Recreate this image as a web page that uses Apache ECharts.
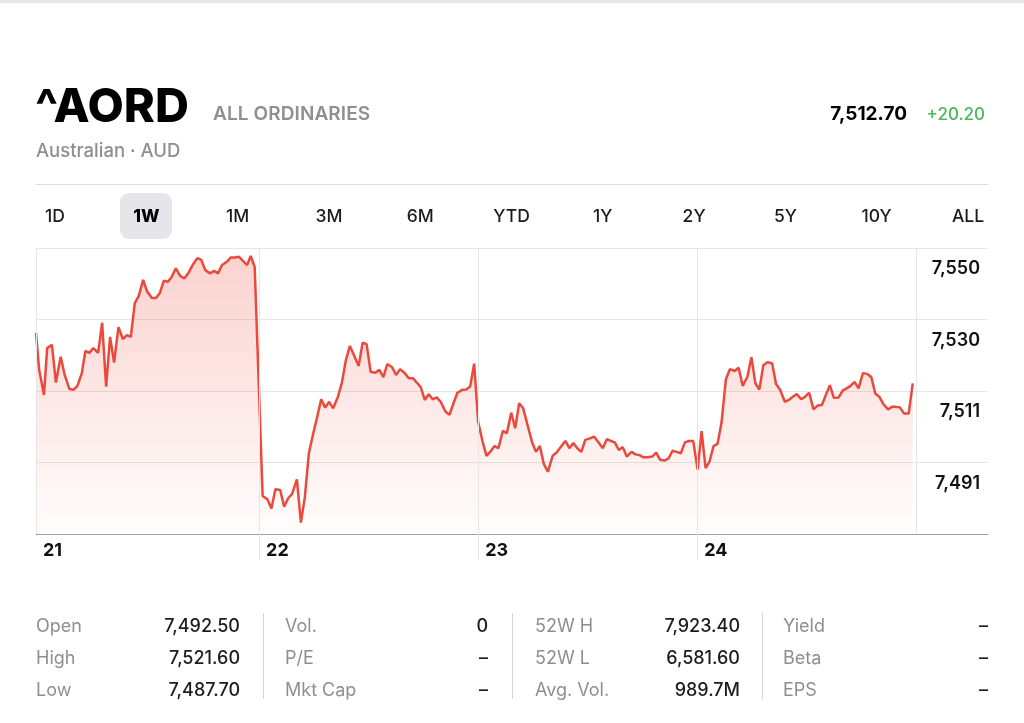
<!DOCTYPE html>
<html>
<head>
<meta charset="utf-8">
<script src="https://cdn.jsdelivr.net/npm/echarts@6/dist/echarts.min.js"></script>
<style>
  html, body { margin: 0; padding: 0; background: #fff; }
  body { width: 1024px; height: 723px; position: relative; overflow: hidden; font-family: Inter, "Noto Sans", sans-serif; color: #1c1c1e; }
  #topbar { position: absolute; left: 0; top: 0; width: 1024px; height: 3px; background: #e9e7e4; }
  #chart { position: absolute; left: 0; top: 0; width: 1024px; height: 723px; }
  .t { position: absolute; white-space: nowrap; }
  .sym { left: 35px; top: 77px; font-size: 47px; line-height: 56px; font-weight: 800; letter-spacing: 0px; color: #000; }
  .name { left: 213px; top: 102px; font-size: 19px; line-height: 24px; font-weight: 600; color: #8e8e93; letter-spacing: 0.1px; }
  .sub { left: 36px; top: 139px; font-size: 18.5px; line-height: 22px; font-weight: 500; color: #8e8e93; }
  .price { right: 117px; top: 103px; font-size: 19px; line-height: 22px; font-weight: 700; color: #000; }
  .chg { right: 39px; top: 103px; font-size: 17px; line-height: 22px; font-weight: 500; color: #4cb85c; }
  .sep { position: absolute; left: 36px; top: 184px; width: 952px; height: 1px; background: #dcdcdc; }
  .pill { position: absolute; left: 120px; top: 193px; width: 52px; height: 46px; border-radius: 9px; background: #e5e5ea; }
  .tab { top: 205px; font-size: 17.5px; line-height: 22px; font-weight: 500; color: #1c1c1e; transform: translateX(-50%); }
  .tab.on { font-weight: 800; color: #000; }
  .lbl { font-size: 18px; line-height: 22px; color: #8e8e93; }
  .val { font-size: 18px; line-height: 22px; font-weight: 500; color: #1c1c1e; text-align: right; }
  .vsep { position: absolute; top: 613px; width: 1px; height: 86px; background: #d4d4d4; }
</style>
</head>
<body>
<div id="topbar"></div>
<div id="chart"></div>
<div class="t sym">^AORD</div>
<div class="t name">ALL ORDINARIES</div>
<div class="t sub">Australian · AUD</div>
<div class="t price">7,512.70</div>
<div class="t chg">+20.20</div>
<div class="sep"></div>
<div class="pill"></div>
<div id="tabs"></div>
<div id="stats"></div>
<script>
// ranges shown above the chart
const ranges = ['1D', '1W', '1M', '3M', '6M', 'YTD', '1Y', '2Y', '5Y', '10Y', 'ALL'];
const activeRange = '1W';

// x position of each reading in "slots" (one trading week, ~55 slots per day)
const times = [
  0, 0.8, 2.0, 2.8, 4.0, 5.0, 6.2, 7.2, 8.4, 9.4, 10.4, 11.5, 12.4, 13.4, 14.4, 15.6, 16.6, 17.6, 18.6, 19.6,
  20.7, 21.8, 22.8, 23.8, 24.8, 25.8, 26.9, 27.9, 29.1, 30.1, 31.1, 32.1, 33.1, 34.1, 35.1, 36.2, 37.2, 38.3, 39.5, 40.5,
  41.5, 42.5, 43.7, 44.7, 45.7, 46.7, 47.9, 48.9, 49.9, 50.9, 51.9, 53.0, 53.9, 54.9,
  56.9, 58.1, 59.1, 60.1, 61.3, 62.3, 63.3, 64.3, 65.5, 66.5, 67.5, 68.5, 69.5, 70.5, 71.6, 72.6, 73.6, 74.6, 75.8, 76.8,
  77.8, 78.8, 79.8, 81.0, 82.0, 83.0, 84.0, 85.2, 86.2, 87.2, 88.2, 89.4, 90.4, 91.4, 92.4, 93.6, 94.6, 95.6, 96.6, 97.6,
  98.6, 99.6, 100.6, 101.6, 102.8, 103.8, 104.8, 105.8, 107.0, 108.0, 109.0, 110.0,
  111.0, 112.1, 113.1, 114.1, 115.1, 116.1, 117.2, 118.2, 119.3, 120.3, 121.3, 122.3, 123.4, 124.5, 125.5, 126.5, 127.5, 128.5,
  129.7, 130.7, 131.7, 132.9, 133.9, 134.9, 135.9, 136.9, 137.9, 139.1, 140.1, 141.1, 142.3, 143.3, 144.3, 145.3, 146.3, 147.3,
  148.3, 149.5, 150.5, 151.5, 152.5, 153.5, 154.7, 155.7, 156.7, 157.8, 158.8, 159.8, 160.8, 161.9, 162.9, 163.9, 165.0,
  166.1, 167.1, 168.1, 169.1, 170.1, 171.1, 172.1, 173.2, 174.2, 175.4, 176.4, 177.4, 178.6, 179.6, 180.6, 181.6, 182.6, 183.6,
  184.8, 185.8, 186.8, 188.0, 189.0, 190.0, 191.0, 192.1, 193.1, 194.1, 195.2, 196.3, 197.3, 198.3, 199.3, 200.3, 201.5, 202.5,
  203.5, 204.5, 205.5, 206.5, 207.6, 208.6, 209.7, 210.7, 211.7, 212.7, 213.9, 214.9, 215.9, 216.9, 217.9, 219.1, 220.1
];
const prices = [
  7526.6, 7516.4, 7509.5, 7522.4, 7523.3, 7512.9, 7520.0, 7515.0, 7511.1, 7510.9, 7512.0, 7515.5, 7521.6, 7521.1, 7522.4, 7521.1, 7529.4, 7511.8, 7525.5, 7518.4,
  7528.2, 7524.9, 7526.0, 7525.5, 7534.8, 7536.8, 7541.2, 7538.0, 7536.2, 7536.2, 7537.6, 7541.0, 7540.7, 7542.1, 7544.4, 7542.3, 7541.6, 7543.2, 7545.6, 7547.2,
  7546.7, 7543.9, 7543.0, 7543.7, 7543.0, 7545.3, 7546.2, 7547.4, 7547.4, 7547.6, 7546.5, 7545.3, 7547.8, 7544.8,
  7481.6, 7480.7, 7478.2, 7483.5, 7483.3, 7478.7, 7481.0, 7482.2, 7486.2, 7474.3, 7481.4, 7493.4, 7498.4, 7503.0, 7508.3, 7506.0, 7507.6, 7505.8, 7509.0, 7512.9,
  7519.1, 7523.0, 7520.5, 7517.5, 7523.9, 7523.5, 7515.9, 7515.6, 7516.4, 7514.4, 7518.0, 7517.1, 7515.0, 7516.6, 7515.7, 7514.1, 7514.1, 7512.9, 7511.6, 7508.1,
  7509.7, 7508.3, 7508.8, 7507.6, 7504.9, 7504.0, 7507.2, 7510.1, 7510.9, 7511.0, 7511.8, 7518.1,
  7502.1, 7496.7, 7492.7, 7493.9, 7495.4, 7494.8, 7499.6, 7498.9, 7504.6, 7500.3, 7507.2, 7505.8, 7501.2, 7496.6, 7493.8, 7495.4, 7490.4, 7488.3,
  7492.7, 7493.6, 7495.1, 7496.8, 7494.8, 7496.2, 7494.8, 7493.8, 7497.1, 7497.5, 7498.0, 7496.6, 7494.8, 7497.3, 7496.8, 7496.4, 7494.3, 7495.1,
  7492.5, 7493.8, 7493.1, 7492.9, 7492.3, 7492.3, 7492.5, 7493.6, 7491.6, 7491.4, 7492.0, 7494.1, 7493.8, 7493.4, 7496.4, 7496.8, 7496.8,
  7488.9, 7499.5, 7489.3, 7491.2, 7495.4, 7496.0, 7501.8, 7513.8, 7516.6, 7516.1, 7517.0, 7512.0, 7514.5, 7519.9, 7512.7, 7511.0, 7517.7, 7518.5,
  7518.2, 7512.5, 7510.9, 7507.6, 7508.1, 7509.0, 7509.7, 7508.3, 7509.0, 7510.1, 7505.5, 7506.6, 7506.7, 7509.5, 7512.2, 7508.7, 7508.8, 7510.7,
  7511.3, 7512.0, 7513.1, 7511.3, 7515.5, 7515.3, 7514.4, 7509.9, 7509.0, 7507.0, 7505.5, 7506.2, 7506.2, 7506.0, 7504.4, 7504.4, 7512.7
];

// day boundaries (slots) and their labels
const dayStarts = [0, 56, 111, 166, 221];
const dayLabels = ['21', '22', '23', '24'];

// price axis: 4 bands of 7550/383 ending at 7,550
const yMax = 7550;
const yStep = yMax / 383;
const yMin = yStep * 379;

// key statistics
const statLabels = [['Open', 'High', 'Low'], ['Vol.', 'P/E', 'Mkt Cap'], ['52W H', '52W L', 'Avg. Vol.'], ['Yield', 'Beta', 'EPS']];
const statValues = [['7,492.50', '7,521.60', '7,487.70'], ['0', '–', '–'], ['7,923.40', '6,581.60', '989.7M'], ['–', '–', '–']];

// --- html parts ---
let tabsHtml = '';
ranges.forEach((r, i) => {
    tabsHtml += '<div class="t tab' + (r === activeRange ? ' on' : '') + '" style="left:' + (55 + i * 91.3) + 'px">' + r + '</div>';
});
document.getElementById('tabs').innerHTML = tabsHtml;

const colLeft = [36, 285, 535, 783];
const colRight = [240, 488, 740, 988];
const rowY = [615, 647, 679];
let statsHtml = '';
for (let c = 0; c < 4; c++) {
    for (let r = 0; r < 3; r++) {
        statsHtml += '<div class="t lbl" style="left:' + colLeft[c] + 'px;top:' + rowY[r] + 'px">' + statLabels[c][r] + '</div>';
        statsHtml += '<div class="t val" style="right:' + (1024 - colRight[c]) + 'px;top:' + rowY[r] + 'px">' + statValues[c][r] + '</div>';
    }
}
[263, 512, 762].forEach(x => { statsHtml += '<div class="vsep" style="left:' + x + 'px"></div>'; });
document.getElementById('stats').innerHTML = statsHtml;

// --- chart ---
var chartDom = document.getElementById('chart');
var myChart = echarts.init(chartDom);

const gridColor = '#e6e6e6';
const fmt = new Intl.NumberFormat('en-US');

let option = {
    animation: false,
    grid: { left: 36, right: 36, top: 248, bottom: 189 },
    xAxis: {
        type: 'value',
        min: 0,
        max: 239,
        axisLine: { show: true, lineStyle: { color: '#a0a0a0', width: 1 } },
        axisTick: {
            show: true,
            customValues: dayStarts.slice(1, 4),
            length: 26,
            lineStyle: { color: gridColor }
        },
        splitLine: { show: false },
        axisLabel: {
            customValues: dayStarts.slice(0, 4),
            showMinLabel: true,
            align: 'left',
            verticalAlign: 'top',
            margin: 8,
            padding: [0, 0, 0, 7],
            fontFamily: 'Inter',
            fontSize: 18,
            fontWeight: 700,
            color: '#111',
            formatter: (v) => {
                const i = dayStarts.indexOf(Math.round(v));
                return i >= 0 && i < dayLabels.length ? dayLabels[i] : '';
            }
        }
    },
    yAxis: {
        type: 'value',
        position: 'right',
        min: yMin,
        max: yMax,
        interval: yStep,
        axisLine: { show: false },
        axisTick: { show: false },
        splitLine: { show: true, lineStyle: { color: gridColor } },
        axisLabel: {
            inside: true,
            showMinLabel: false,
            margin: 8,
            verticalAlign: 'top',
            padding: [12, 0, 0, 0],
            fontFamily: 'Inter',
            fontSize: 18,
            fontWeight: 600,
            color: '#111',
            formatter: (v) => fmt.format(Math.round(v))
        }
    },
    series: [{
        type: 'line',
        data: times.map((t, i) => [t, prices[i]]),
        showSymbol: false,
        symbol: 'none',
        lineStyle: { color: '#ea4a3d', width: 2.5 },
        areaStyle: {
            origin: 'start',
            color: new echarts.graphic.LinearGradient(0, 0, 0, 1, [
                { offset: 0, color: 'rgba(236,80,66,0.36)' },
                { offset: 1, color: 'rgba(236,80,66,0.02)' }
            ])
        },
        markLine: {
            silent: true,
            symbol: 'none',
            label: { show: false },
            lineStyle: { color: gridColor, type: 'solid', width: 1 },
            data: dayStarts.map(d => ({ xAxis: d }))
        },
        z: 3
    }]
};
option && myChart.setOption(option);
</script>
</body>
</html>
